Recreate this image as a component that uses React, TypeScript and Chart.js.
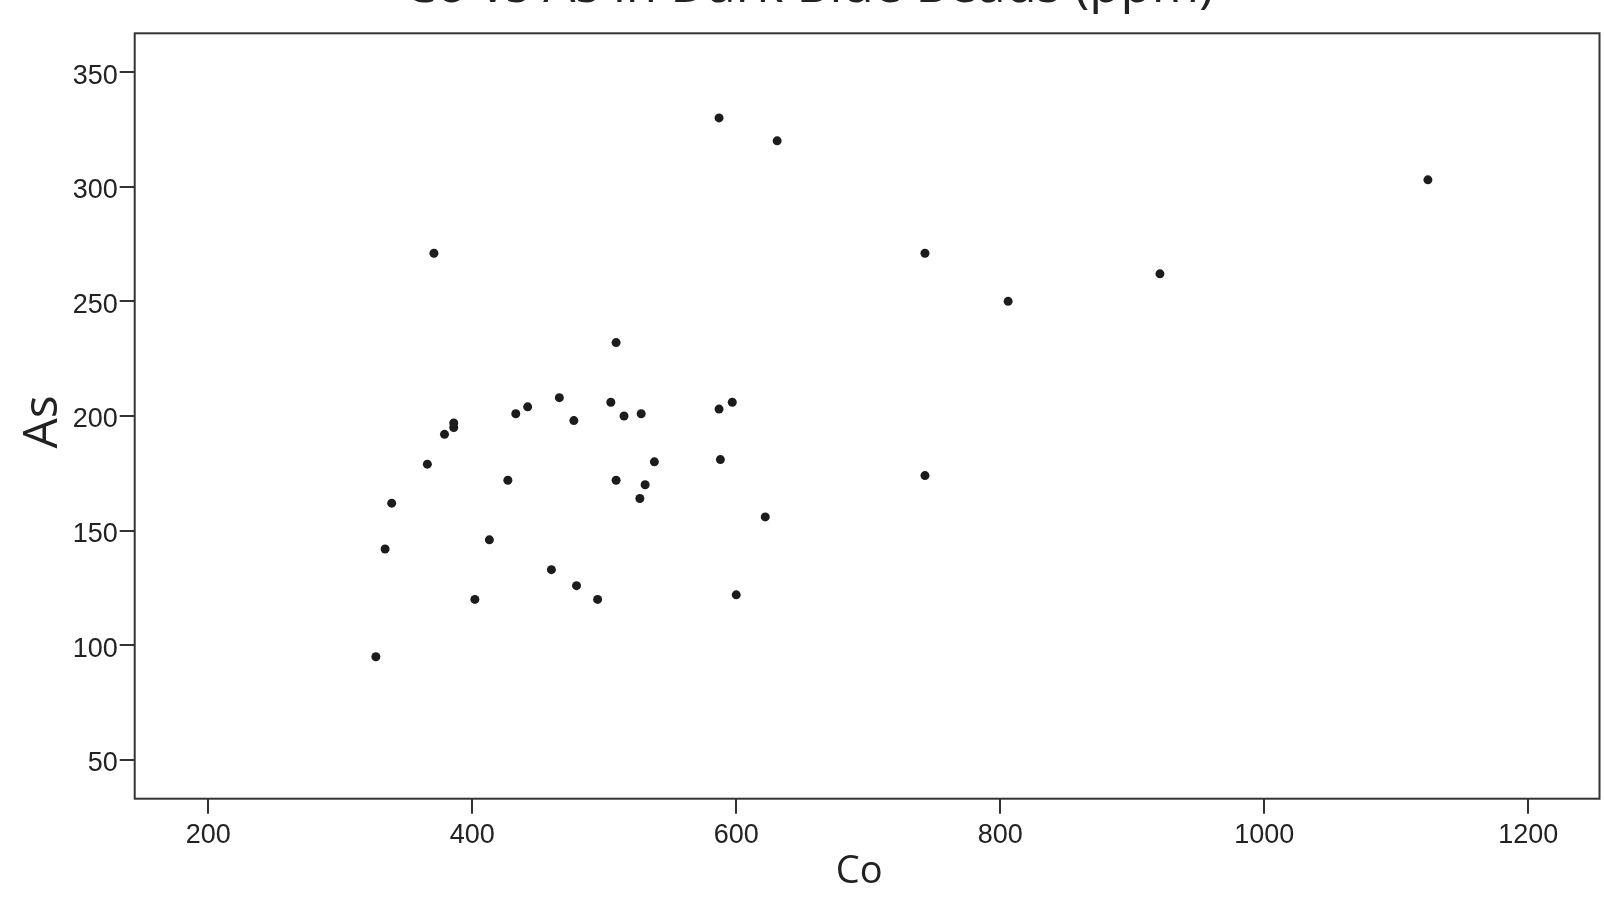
import React, { useEffect, useRef } from "react";
import { Chart, registerables } from "chart.js";

Chart.register(...registerables);

// ---- data ----
const coValues = [
  386, 386, 379, 366, 339, 334, 327, 402, 413, 427, 433, 442, 466, 477, 460, 479,
  495, 505, 515, 528, 538, 509, 531, 527, 509, 587, 597, 588, 622, 743, 600, 587,
  631, 1124, 371, 743, 921, 806,
];
const asValues = [
  197, 195, 192, 179, 162, 142, 95, 120, 146, 172, 201, 204, 208, 198, 133, 126,
  120, 206, 200, 201, 180, 172, 170, 164, 232, 203, 206, 181, 156, 174, 122, 330,
  320, 303, 271, 271, 262, 250,
];

const chartTitle = "Co vs As in Dark Blue Beads (ppm)";
const xTitle = "Co";
const yTitle = "As";
const xRange = [144.3, 1254];
const yRange = [33.1, 366.9];
const xStep = 200;
const yStep = 50;

const SHIFT = 43; // title is cropped at the top in the reference
const W = 1604;
const H = 904 + SHIFT;

const framePlugin = {
  id: "frame",
  beforeDatasetsDraw(chart: any) {
    const { ctx, chartArea } = chart;
    const { left, top, right, bottom } = chartArea;
    ctx.save();
    ctx.strokeStyle = "#333333";
    ctx.lineWidth = 2;
    ctx.strokeRect(left, top, right - left, bottom - top);
    ctx.restore();
  },
};

function shiftTitle(scale: any, dx: number, dy: number) {
  if (scale.$shifted) return;
  scale.$shifted = true;
  const orig = scale.drawTitle;
  scale.drawTitle = function (...args: any[]) {
    const ctx = this.ctx;
    ctx.save();
    ctx.translate(dx, dy);
    orig.apply(this, args);
    ctx.restore();
  };
}

export default function App() {
  const ref = useRef<HTMLCanvasElement | null>(null);

  useEffect(() => {
    if (!ref.current) return;
    const points = coValues.map((x, i) => ({ x, y: asValues[i] }));
    const tickFont = { family: "'Liberation Sans', Arial, sans-serif", size: 27 };
    const fmt = (v: any) => String(v);
    const chart = new Chart(ref.current, {
      type: "scatter",
      data: {
        datasets: [
          {
            data: points,
            pointRadius: 4.5,
            pointHoverRadius: 4.5,
            pointBackgroundColor: "#1c1c1c",
            pointBorderWidth: 0,
            borderColor: "#1c1c1c",
          },
        ],
      },
      options: {
        animation: false,
        responsive: false,
        devicePixelRatio: 1,
        layout: { padding: { left: 16.3, right: 2.3, top: 0, bottom: 0 } },
        plugins: {
          legend: { display: false },
          tooltip: { enabled: false },
          title: {
            display: true,
            text: chartTitle,
            color: "#222222",
            font: { family: "'Open Sans', sans-serif", size: 51, weight: "normal", lineHeight: 1.2 },
            padding: { top: 0, bottom: 15.1 },
          },
        },
        scales: {
          x: {
            type: "linear",
            min: xRange[0],
            max: xRange[1],
            afterFit: (scale: any) => {
              scale.height = 105.3;
              shiftTitle(scale, -8, 0);
            },
            border: { display: false },
            grid: {
              display: true,
              drawOnChartArea: false,
              drawTicks: true,
              tickLength: 15,
              lineWidth: 2,
              color: "#333333",
            },
            ticks: {
              stepSize: xStep,
              includeBounds: false,
              autoSkip: false,
              maxRotation: 0,
              padding: 5.3,
              color: "#222222",
              font: tickFont,
              callback: fmt,
            },
            title: {
              display: true,
              text: xTitle,
              color: "#222222",
              font: { family: "'Open Sans', sans-serif", size: 38, weight: "normal", lineHeight: 1.2 },
              padding: { top: 0, bottom: 8.7 },
            },
          },
          y: {
            type: "linear",
            min: yRange[0],
            max: yRange[1],
            afterFit: (scale: any) => {
              scale.width = 118.4;
              shiftTitle(scale, 0, 6);
            },
            border: { display: false },
            grid: {
              display: true,
              drawOnChartArea: false,
              drawTicks: true,
              tickLength: 15,
              lineWidth: 2,
              color: "#333333",
            },
            ticks: {
              stepSize: yStep,
              includeBounds: false,
              autoSkip: false,
              padding: 2,
              labelOffset: 4,
              color: "#222222",
              font: tickFont,
              callback: fmt,
            },
            title: {
              display: true,
              text: yTitle,
              color: "#222222",
              font: { family: "'Open Sans', sans-serif", size: 48, weight: "normal", lineHeight: 1 },
              padding: { top: 2.8, bottom: 0 },
            },
          },
        },
      } as any,
      plugins: [framePlugin],
    });
    return () => chart.destroy();
  }, []);

  return (
    <div
      style={{
        position: "fixed",
        left: 0,
        top: -SHIFT,
        width: W,
        height: H,
        background: "#ffffff",
        overflow: "hidden",
      }}
    >
      <canvas ref={ref} width={W} height={H} style={{ width: W, height: H, display: "block" }} />
    </div>
  );
}
